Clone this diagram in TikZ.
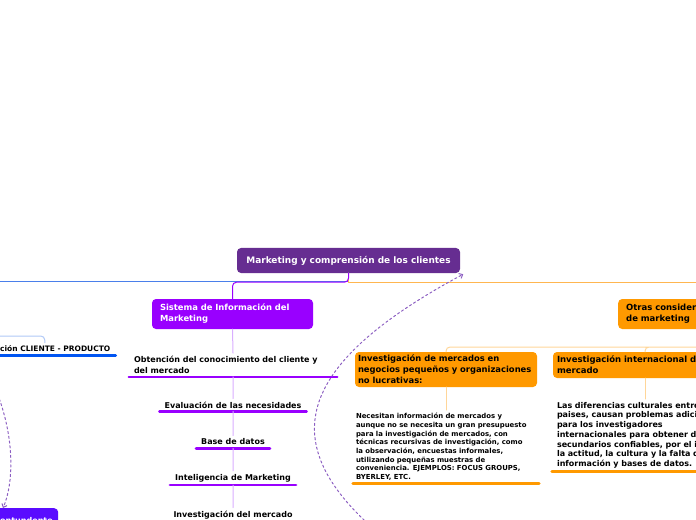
\documentclass[tikz,border=0pt]{standalone}
\usepackage{fontspec}
\setmainfont{DejaVu Sans}
\usetikzlibrary{arrows.meta}
\definecolor{raiz}{HTML}{662D91}
\definecolor{violeta}{HTML}{9900FF}
\definecolor{lila}{HTML}{D9AEFF}
\definecolor{azul}{HTML}{4A7FEA}
\definecolor{azulfuerte}{HTML}{0055F2}
\definecolor{celeste}{HTML}{AFC8F6}
\definecolor{indigo}{HTML}{5A0CFF}
\definecolor{naranja}{HTML}{FF9900}
\definecolor{naranjaclaro}{HTML}{FFB650}
\definecolor{crema}{HTML}{FFD699}
\definecolor{relacion}{HTML}{8C5FC2}
\begin{document}
\begin{tikzpicture}[x=1bp, y=-1bp, line join=round, line cap=round, >={Straight Barb[length=3bp,width=5.5bp]},
	caja/.style={rounded corners=4bp, inner xsep=8bp, inner ysep=2bp, align=left, font=\bfseries\fontsize{8.5bp}{11bp}\selectfont},
	tema/.style={inner xsep=5bp, inner ysep=3bp, align=left, font=\bfseries\fontsize{8bp}{11bp}\selectfont},
	nota/.style={inner xsep=3bp, inner ysep=3bp, align=left, text width=180bp},
	subraya/.style={line width=2.6bp},
	rel/.style={relacion, line width=1bp, dash pattern=on 2.2bp off 2.6bp, ->}]
	\useasboundingbox (0,0) rectangle (696,520);
	\node[caja, fill=raiz, text=white, minimum width=223bp, minimum height=25bp, align=center, font=\bfseries\fontsize{8.95bp}{11bp}\selectfont] (raiz) at (348.5,260.5) {Marketing y comprensión de los clientes};
	\node[caja, fill=violeta, text=white, text width=145bp, minimum height=30bp, font=\bfseries\fontsize{8.4bp}{11bp}\selectfont] (sis) at (232.5,314) {Sistema de Información del\\Marketing};
	\node[caja, fill=naranja, anchor=west, text width=150bp, minimum height=30bp] (otras) at (618,314) {Otras consider\\de marketing};
	\node[caja, fill=naranja, inner xsep=3bp, text width=176bp, minimum height=35bp, font=\bfseries\fontsize{8.4bp}{11bp}\selectfont] (inv1) at (446,369.5) {Investigación de mercados en\\negocios pequeños y organizaciones\\no lucrativas:};
	\node[caja, fill=naranja, inner xsep=4bp, text width=176bp, minimum height=26bp] (inv2) at (645,365) {Investigación internacional d\\mercado};
	\node[caja, fill=indigo, text=white, anchor=north west, text width=50bp, minimum height=25bp, font=\bfseries\fontsize{8bp}{11bp}\selectfont] (cont) at (-8,508) {ontundente};
	\coordinate (azul0) at (0,281);
	\coordinate (nar0) at (700,282);
	\coordinate (cel0) at (0,336);
	\coordinate (cre0) at (700,347);
	\draw[azul, line width=1bp] (raiz.south) |- (azul0);
	\draw[naranjaclaro, line width=1bp] (raiz.south) |- (nar0);
	\draw[violeta, line width=1bp, rounded corners=4bp] (raiz.south) -- ++(0,9) -| (sis.north);
	% sistema de informacion
	\node[tema, text width=198bp] (t1) at (233,365) {Obtención del conocimiento del cliente y\\del mercado};
	\node[tema] (t2) at (233,405) {Evaluación de las necesidades};
	\node[tema] (t3) at (233,442) {Base de datos};
	\node[tema] (t4) at (233,478) {Inteligencia de Marketing};
	\node[tema] (t5) at (233,515) {Investigación del mercado};
	\foreach \t in {t1,t2,t3,t4}
		\draw[violeta, subraya] (\t.south west) -- (\t.south east);
	\draw[lila, line width=1bp] (sis.south) -- (t1.north) (t1.south) -- (t2.north) (t2.south) -- (t3.north) (t3.south) -- (t4.north) (t4.south) -- (t5.north);
	% relacion cliente - producto
	\node[tema, anchor=west, font=\bfseries\fontsize{7.5bp}{11bp}\selectfont] (cli) at (-5,349) {ción CLIENTE - PRODUCTO};
	\draw[azulfuerte, line width=3bp] (cli.south west) -- (cli.south east);
	\draw[celeste, line width=1bp, rounded corners=4bp] (cel0) -| ([xshift=-10.5bp]cli.north);
	% otras consideraciones
	\draw[crema, line width=1bp, rounded corners=4bp] (cre0) -| (inv1.north) (cre0) -| (inv2.north);
	\node[nota, anchor=north, font=\bfseries\fontsize{6.9bp}{8.7bp}\selectfont] (nec) at (446,410) {Necesitan información de mercados y\\aunque no se necesita un gran presupuesto\\para la investigación de mercados, con\\técnicas recursivas de investigación, como\\la observación, encuestas informales,\\utilizando pequeñas muestras de\\conveniencia. EJEMPLOS: FOCUS GROUPS,\\BYERLEY, ETC.};
	\node[nota, anchor=north, inner xsep=5bp, text width=176bp, font=\bfseries\fontsize{8bp}{9.7bp}\selectfont] (dif) at (645,399) {Las diferencias culturales entre\\paises, causan problemas adici\\para los investigadores\\internacionales para obtener da\\secundarios confiables, por el i\\la actitud, la cultura y la falta d\\información y bases de datos.};
	\draw[naranja, line width=3bp] (nec.south west) -- (nec.south east) (dif.south west) -- (dif.south east);
	\draw[crema, line width=1bp] (inv1.south) -- (nec.north) (inv2.south) -- (dif.north);
	% relaciones
	\coordinate (rb) at (375,530);
	\coordinate (lt) at (-4,390);
	\draw[rel] (rb) .. controls (272,440) and (300,362) .. ([xshift=3bp,yshift=-1bp]raiz.south east);
	\draw[rel] (lt) .. controls (16,440) and (13,485) .. ([xshift=11bp]cont.north west);
\end{tikzpicture}
\end{document}
